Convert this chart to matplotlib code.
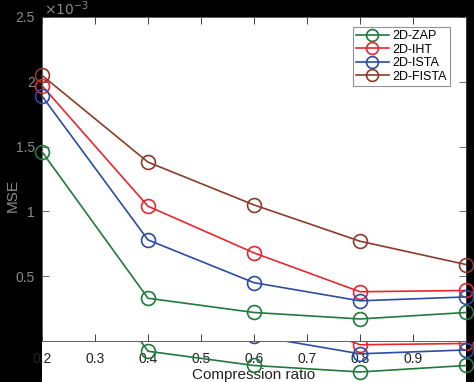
import matplotlib
matplotlib.use("Agg")
import matplotlib.pyplot as plt
from matplotlib.ticker import FuncFormatter
from matplotlib.patches import Rectangle
from matplotlib.transforms import Bbox, TransformedBbox

plt.rcParams['font.family'] = ['Liberation Sans', 'DejaVu Sans']

ratio = [0.2, 0.4, 0.6, 0.8, 1.0]
mse_zap = [1.46e-3, 0.33e-3, 0.22e-3, 0.17e-3, 0.22e-3]
mse_iht = [1.97e-3, 1.04e-3, 0.68e-3, 0.38e-3, 0.39e-3]
mse_ista = [1.89e-3, 0.78e-3, 0.45e-3, 0.31e-3, 0.34e-3]
mse_fista = [2.05e-3, 1.38e-3, 1.05e-3, 0.77e-3, 0.59e-3]
labels = ['2D-ZAP', '2D-IHT', '2D-ISTA', '2D-FISTA']
colors = ['#1f7a3c', '#e8262e', '#2b4ca3', '#8c3b2b']
series = [mse_zap, mse_iht, mse_ista, mse_fista]

W, H = 474, 382
fig = plt.figure(figsize=(W / 100, H / 100), dpi=100, facecolor='black')
L, R, B, T = 42 / W, 466 / W, (H - 341) / H, (H - 17) / H

# white strip below the axes
fig.patches.append(Rectangle((L, 0), R - L, B, transform=fig.transFigure,
                             facecolor='white', edgecolor='none', zorder=-1))

ax = fig.add_axes([L, B, R - L, T - B])
ax.set_facecolor('white')
for s, c, lab in zip(series, colors, labels):
    ax.plot(ratio, s, color=c, lw=1.2, marker='o', ms=10, mfc='none',
            mec=c, mew=1.2, label=lab, clip_on=False, zorder=3)

ax.set_xlim(0.2, 1.0)
ax.set_ylim(0, 2.5e-3)
ax.set_xticks([0.2, 0.3, 0.4, 0.5, 0.6, 0.7, 0.8, 0.9, 1.0])
ax.set_xticklabels(['0.2', '0.3', '0.4', '0.5', '0.6', '0.7', '0.8', '0.9', ''])
ax.set_yticks([0.5e-3, 1.0e-3, 1.5e-3, 2.0e-3, 2.5e-3])
ax.yaxis.set_major_formatter(FuncFormatter(lambda v, p: '%g' % round(v * 1e3, 3)))
ax.tick_params(direction='in', top=True, right=True, length=5, width=0.6,
               labelsize=10)
ax.tick_params(axis='x', colors='#222222', pad=8)
ax.tick_params(axis='y', labelcolor='#8a8a8a', color='#555555', pad=5)
for sp in ax.spines.values():
    sp.set_linewidth(0.6)
    sp.set_color('#444444')
fig.text(44 / W, 1 - 9 / H, r'$\times10^{-3}$', color='#8a8a8a', fontsize=10,
         ha='left', va='center')

ax.set_xlabel('Compression ratio', fontsize=11, color='#222222', labelpad=1)
ax.set_ylabel('MSE', fontsize=11, color='#8a8a8a')
ax.yaxis.set_label_coords(-22 / 424, 0.45)

leg = ax.legend(loc='upper right', bbox_to_anchor=(0.962, 0.969), fontsize=9,
                frameon=True, fancybox=False, edgecolor='#777777',
                handlelength=2.6, handletextpad=0.3, borderpad=0.25,
                labelspacing=0.12, markerscale=0.85, borderaxespad=0)
leg.get_frame().set_linewidth(0.8)

# ghost copy of the lines shifted down, visible only under the axes
shift = 53 / H
ax2 = fig.add_axes([L, B - shift, R - L, T - B])
ax2.set_xlim(0.2, 1.0)
ax2.set_ylim(0, 2.5e-3)
ax2.axis('off')
ax2.patch.set_alpha(0)
clip = TransformedBbox(Bbox([[L, 0], [1.0, B - 1 / H]]), fig.transFigure)
for s, c in zip(series, colors):
    ln, = ax2.plot(ratio, s, color=c, lw=1.2, marker='o', ms=10, mfc='none',
                   mec=c, mew=1.2, clip_on=True)
    ln.set_clip_box(clip)

fig.savefig('out.png', dpi=100, facecolor='black')
